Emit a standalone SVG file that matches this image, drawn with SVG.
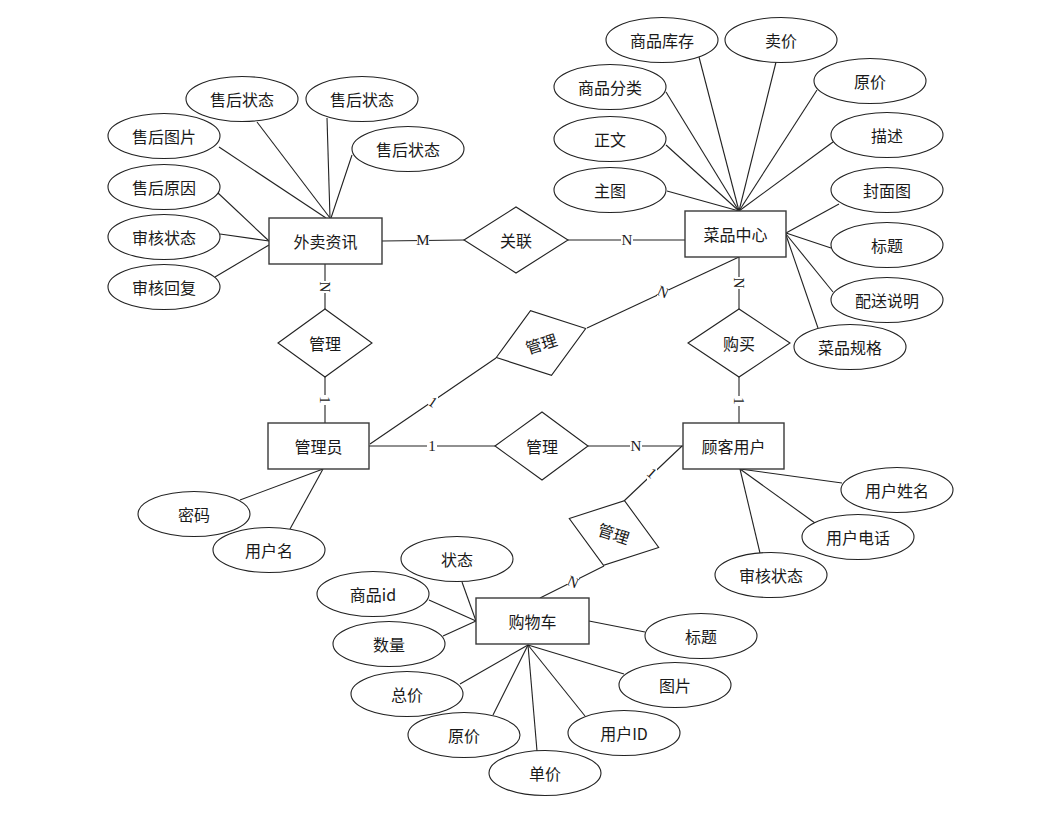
<svg xmlns="http://www.w3.org/2000/svg" width="1058" height="821" viewBox="0 0 1058 821">
<style>
.bg{fill:#fff}
.ent rect{fill:#fff;stroke:#3a3a3a;stroke-width:1.4}
.rel polygon{fill:#fff;stroke:#222;stroke-width:1.1}
.att ellipse{fill:#fff;stroke:#222;stroke-width:1.1}
text{font-family:"Noto Sans CJK SC","Liberation Serif",sans-serif;font-size:16px;fill:#1a1a1a;text-anchor:middle;dominant-baseline:central}
.conn line{stroke:#222;stroke-width:1.1}
.lb{font-family:"Liberation Serif",serif;font-size:15px}
.lbg{fill:#fff}
</style>
<rect class="bg" x="0" y="0" width="1058" height="821"/>

<g id="connectors" class="conn">
<!-- relationship connectors -->
<line x1="382" y1="241" x2="464" y2="240"/>
<line x1="568" y1="240" x2="685" y2="240"/>
<line x1="325" y1="264" x2="325" y2="309"/>
<line x1="325" y1="377" x2="325" y2="423"/>
<line x1="369" y1="446" x2="495" y2="446"/>
<line x1="588" y1="446" x2="683" y2="446"/>
<line x1="370" y1="444" x2="496" y2="358"/>
<line x1="587" y1="328" x2="739" y2="257"/>
<line x1="739" y1="257" x2="739" y2="309"/>
<line x1="739" y1="377" x2="739" y2="423"/>
<line x1="682" y1="446" x2="624" y2="501"/>
<line x1="604" y1="566" x2="540" y2="598"/>
<!-- 外卖资讯 attributes -->
<line x1="219" y1="147" x2="326" y2="218"/>
<line x1="257" y1="122" x2="330" y2="218"/>
<line x1="327" y1="118" x2="330" y2="218"/>
<line x1="352" y1="155" x2="331" y2="218"/>
<line x1="218" y1="193" x2="269" y2="241"/>
<line x1="220" y1="234" x2="269" y2="241"/>
<line x1="215" y1="277" x2="269" y2="245"/>
<!-- 菜品中心 attributes -->
<line x1="699" y1="57" x2="739" y2="211"/>
<line x1="776" y1="62" x2="739" y2="211"/>
<line x1="666" y1="92" x2="739" y2="211"/>
<line x1="817" y1="90" x2="739" y2="211"/>
<line x1="666" y1="145" x2="739" y2="211"/>
<line x1="833" y1="142" x2="739" y2="211"/>
<line x1="667" y1="191" x2="739" y2="211"/>
<line x1="839" y1="204" x2="786" y2="233"/>
<line x1="831" y1="248" x2="786" y2="233"/>
<line x1="833" y1="292" x2="786" y2="234"/>
<line x1="818" y1="328" x2="786" y2="235"/>
<!-- 顾客用户 attributes -->
<line x1="740" y1="469" x2="842" y2="483"/>
<line x1="740" y1="469" x2="815" y2="523"/>
<line x1="740" y1="469" x2="760" y2="553"/>
<!-- 管理员 attributes -->
<line x1="323" y1="469" x2="240" y2="500"/>
<line x1="323" y1="469" x2="290" y2="529"/>
<!-- 购物车 attributes -->
<line x1="462" y1="582" x2="476" y2="621"/>
<line x1="429" y1="600" x2="476" y2="621"/>
<line x1="443" y1="636" x2="476" y2="621"/>
<line x1="645" y1="632" x2="589" y2="621"/>
<line x1="460" y1="684" x2="528" y2="645"/>
<line x1="493" y1="715" x2="528" y2="645"/>
<line x1="537" y1="751" x2="528" y2="645"/>
<line x1="585" y1="716" x2="528" y2="645"/>
<line x1="624" y1="674" x2="528" y2="645"/>
<!-- cardinality labels -->
<g>
<rect class="lbg" x="417" y="232" width="12" height="16"/>
<text class="lb" x="423" y="240">M</text>
<rect class="lbg" x="621" y="232" width="12" height="16"/>
<text class="lb" x="627" y="240">N</text>
<rect class="lbg" x="317" y="281" width="16" height="12"/>
<text class="lb" x="325" y="287" transform="rotate(90 325 287)">N</text>
<rect class="lbg" x="317" y="395" width="16" height="10"/>
<text class="lb" x="325" y="400" transform="rotate(90 325 400)">1</text>
<rect class="lbg" x="427" y="438" width="10" height="16"/>
<text class="lb" x="432" y="446">1</text>
<rect class="lbg" x="630" y="438" width="12" height="16"/>
<text class="lb" x="636" y="446">N</text>
<rect class="lbg" x="428" y="395" width="10" height="14"/>
<text class="lb" x="433" y="402" transform="rotate(34 433 402)">1</text>
<rect class="lbg" x="657" y="285" width="12" height="14"/>
<text class="lb" x="663" y="292" transform="rotate(25 663 292)">N</text>
<rect class="lbg" x="731" y="277" width="16" height="12"/>
<text class="lb" x="739" y="283" transform="rotate(90 739 283)">N</text>
<rect class="lbg" x="731" y="396" width="16" height="10"/>
<text class="lb" x="739" y="401" transform="rotate(90 739 401)">1</text>
<rect class="lbg" x="647" y="467" width="10" height="13"/>
<text class="lb" x="652" y="473" transform="rotate(42 652 473)">1</text>
<rect class="lbg" x="567" y="576" width="12" height="13"/>
<text class="lb" x="573" y="582" transform="rotate(25 573 582)">N</text>
</g>
</g>

<g id="entity-waimai" class="ent"><rect x="269" y="218" width="113" height="46"/><text x="325.5" y="241">外卖资讯</text></g>
<g id="entity-caipin" class="ent"><rect x="685" y="211" width="101" height="46"/><text x="735.5" y="234">菜品中心</text></g>
<g id="entity-admin" class="ent"><rect x="268" y="423" width="101" height="46"/><text x="318.5" y="446">管理员</text></g>
<g id="entity-customer" class="ent"><rect x="683" y="423" width="101" height="46"/><text x="733.5" y="446">顾客用户</text></g>
<g id="entity-cart" class="ent"><rect x="476" y="598" width="113" height="46"/><text x="532.5" y="621">购物车</text></g>

<g id="rel-guanlian" class="rel"><polygon points="464,240 516,207 568,240 516,273"/><text x="516" y="240">关联</text></g>
<g id="rel-manage-waimai" class="rel"><polygon points="278,343 325,309 372,343 325,377"/><text x="325" y="343">管理</text></g>
<g id="rel-manage-caipin" class="rel" transform="translate(541 343) rotate(-18)"><polygon points="-47,0 0,-34 47,0 0,34"/><text x="0" y="0">管理</text></g>
<g id="rel-manage-customer" class="rel"><polygon points="495,446 542,412 588,446 542,480"/><text x="542" y="446">管理</text></g>
<g id="rel-buy" class="rel"><polygon points="688,343 739,309 790,343 739,377"/><text x="739" y="343">购买</text></g>
<g id="rel-manage-cart" class="rel" transform="translate(614 533) rotate(18)"><polygon points="-47,0 0,-34 47,0 0,34"/><text x="0" y="0">管理</text></g>

<g id="attr-w1" class="att"><ellipse cx="242" cy="99" rx="56" ry="22.5"/><text x="242" y="99">售后状态</text></g>
<g id="attr-w2" class="att"><ellipse cx="362" cy="99" rx="56" ry="22.5"/><text x="362" y="99">售后状态</text></g>
<g id="attr-w3" class="att"><ellipse cx="164" cy="136" rx="56" ry="22.5"/><text x="164" y="136">售后图片</text></g>
<g id="attr-w4" class="att"><ellipse cx="408" cy="149" rx="56" ry="22.5"/><text x="408" y="149">售后状态</text></g>
<g id="attr-w5" class="att"><ellipse cx="164" cy="187" rx="56" ry="22.5"/><text x="164" y="187">售后原因</text></g>
<g id="attr-w6" class="att"><ellipse cx="164" cy="237" rx="56" ry="22.5"/><text x="164" y="237">审核状态</text></g>
<g id="attr-w7" class="att"><ellipse cx="164" cy="287" rx="56" ry="22.5"/><text x="164" y="287">审核回复</text></g>

<g id="attr-c1" class="att"><ellipse cx="662" cy="40" rx="56" ry="22.5"/><text x="662" y="40">商品库存</text></g>
<g id="attr-c2" class="att"><ellipse cx="781" cy="40" rx="56" ry="22.5"/><text x="781" y="40">卖价</text></g>
<g id="attr-c3" class="att"><ellipse cx="610" cy="87" rx="56" ry="22.5"/><text x="610" y="87">商品分类</text></g>
<g id="attr-c4" class="att"><ellipse cx="870" cy="81" rx="56" ry="22.5"/><text x="870" y="81">原价</text></g>
<g id="attr-c5" class="att"><ellipse cx="610" cy="139" rx="56" ry="22.5"/><text x="610" y="139">正文</text></g>
<g id="attr-c6" class="att"><ellipse cx="887" cy="135" rx="56" ry="22.5"/><text x="887" y="135">描述</text></g>
<g id="attr-c7" class="att"><ellipse cx="610" cy="190" rx="56" ry="22.5"/><text x="610" y="190">主图</text></g>
<g id="attr-c8" class="att"><ellipse cx="887" cy="190" rx="56" ry="22.5"/><text x="887" y="190">封面图</text></g>
<g id="attr-c9" class="att"><ellipse cx="887" cy="245" rx="56" ry="22.5"/><text x="887" y="245">标题</text></g>
<g id="attr-c10" class="att"><ellipse cx="887" cy="300" rx="56" ry="22.5"/><text x="887" y="300">配送说明</text></g>
<g id="attr-c11" class="att"><ellipse cx="850" cy="347" rx="56" ry="22.5"/><text x="850" y="347">菜品规格</text></g>

<g id="attr-u1" class="att"><ellipse cx="897" cy="490" rx="56" ry="22.5"/><text x="897" y="490">用户姓名</text></g>
<g id="attr-u2" class="att"><ellipse cx="858" cy="537" rx="56" ry="22.5"/><text x="858" y="537">用户电话</text></g>
<g id="attr-u3" class="att"><ellipse cx="771" cy="575" rx="56" ry="22.5"/><text x="771" y="575">审核状态</text></g>

<g id="attr-a1" class="att"><ellipse cx="194" cy="514" rx="56" ry="22.5"/><text x="194" y="514">密码</text></g>
<g id="attr-a2" class="att"><ellipse cx="269" cy="550" rx="56" ry="22.5"/><text x="269" y="550">用户名</text></g>

<g id="attr-s1" class="att"><ellipse cx="457" cy="559" rx="56" ry="22.5"/><text x="457" y="559">状态</text></g>
<g id="attr-s2" class="att"><ellipse cx="373" cy="594" rx="56" ry="22.5"/><text x="373" y="594">商品id</text></g>
<g id="attr-s3" class="att"><ellipse cx="389" cy="644" rx="56" ry="22.5"/><text x="389" y="644">数量</text></g>
<g id="attr-s4" class="att"><ellipse cx="701" cy="636" rx="56" ry="22.5"/><text x="701" y="636">标题</text></g>
<g id="attr-s5" class="att"><ellipse cx="407" cy="694" rx="56" ry="22.5"/><text x="407" y="694">总价</text></g>
<g id="attr-s6" class="att"><ellipse cx="675" cy="685" rx="56" ry="22.5"/><text x="675" y="685">图片</text></g>
<g id="attr-s7" class="att"><ellipse cx="464" cy="735" rx="56" ry="22.5"/><text x="464" y="735">原价</text></g>
<g id="attr-s8" class="att"><ellipse cx="624" cy="733" rx="56" ry="22.5"/><text x="624" y="733">用户ID</text></g>
<g id="attr-s9" class="att"><ellipse cx="545" cy="773" rx="56" ry="22.5"/><text x="545" y="773">单价</text></g>
</svg>
